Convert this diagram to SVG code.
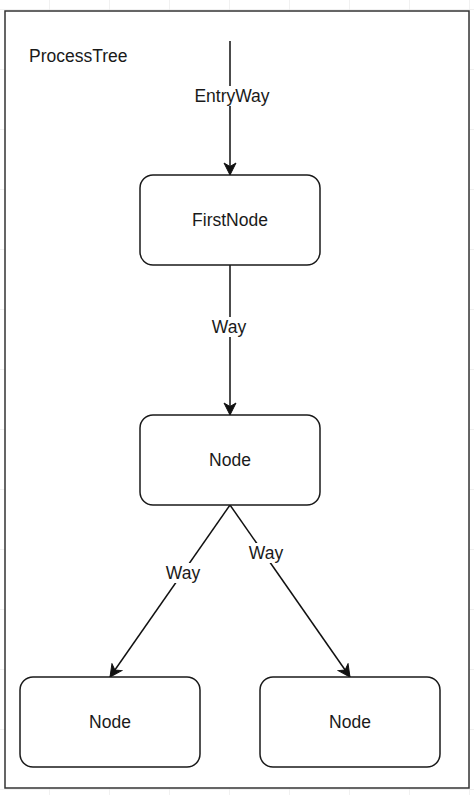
<svg xmlns="http://www.w3.org/2000/svg" width="474" height="795" viewBox="0 0 474 795">
  <defs>
    <pattern id="grid" x="49" y="9" width="60" height="60" patternUnits="userSpaceOnUse">
      <path d="M0,0 H60 M0,0 V60" fill="none" stroke="#e4e4e4" stroke-width="1"/>
    </pattern>
    <marker id="arrow" markerUnits="userSpaceOnUse" markerWidth="14" markerHeight="14" viewBox="-13 -7 14 14" refX="0" refY="0" orient="auto">
      <path d="M0,0 L-12,-6 L-8.5,0 L-12,6 Z" fill="#111" stroke="#111" stroke-width="1" stroke-linejoin="miter"/>
    </marker>
    <style>
      .node { fill: #ffffff; stroke: #1a1a1a; stroke-width: 1.5; }
      .txt { font-family: "Liberation Sans", Arial, sans-serif; font-size: 17.5px; fill: #1a1a1a; text-anchor: middle; dominant-baseline: central; }
      .edge { fill: none; stroke: #111; stroke-width: 1.5; }
      .lbl { fill: #ffffff; }
    </style>
  </defs>
  <rect x="0" y="0" width="474" height="795" fill="#ffffff"/>
  <rect x="0" y="0" width="474" height="795" fill="url(#grid)"/>

  <g id="ProcessTree">
    <rect x="5" y="11" width="464" height="777" fill="#ffffff" stroke="#333333" stroke-width="1.5"/>
    <text class="txt" x="29" y="56" style="text-anchor:start">ProcessTree</text>
  </g>

  <g id="connectors">
    <g id="edge-entry">
      <line class="edge" x1="230" y1="41" x2="230" y2="175" marker-end="url(#arrow)"/>
      <rect class="lbl" x="192" y="86" width="80" height="20"/>
      <text class="txt" x="232" y="96">EntryWay</text>
    </g>
    <g id="edge-first-node">
      <line class="edge" x1="230" y1="265" x2="230" y2="415" marker-end="url(#arrow)"/>
      <rect class="lbl" x="208" y="317" width="42" height="20"/>
      <text class="txt" x="229" y="327">Way</text>
    </g>
    <g id="edge-node-left">
      <line class="edge" x1="230" y1="505" x2="110" y2="677" marker-end="url(#arrow)"/>
      <rect class="lbl" x="162" y="563" width="42" height="20"/>
      <text class="txt" x="183" y="573">Way</text>
    </g>
    <g id="edge-node-right">
      <line class="edge" x1="230" y1="505" x2="350" y2="677" marker-end="url(#arrow)"/>
      <rect class="lbl" x="245" y="543" width="42" height="20"/>
      <text class="txt" x="266" y="553">Way</text>
    </g>
  </g>

  <g id="FirstNode">
    <rect class="node" x="140" y="175" width="180" height="90" rx="13" ry="13"/>
    <text class="txt" x="230" y="220">FirstNode</text>
  </g>
  <g id="Node">
    <rect class="node" x="140" y="415" width="180" height="90" rx="13" ry="13"/>
    <text class="txt" x="230" y="460">Node</text>
  </g>
  <g id="NodeLeft">
    <rect class="node" x="20" y="677" width="180" height="90" rx="13" ry="13"/>
    <text class="txt" x="110" y="722">Node</text>
  </g>
  <g id="NodeRight">
    <rect class="node" x="260" y="677" width="180" height="90" rx="13" ry="13"/>
    <text class="txt" x="350" y="722">Node</text>
  </g>
</svg>
